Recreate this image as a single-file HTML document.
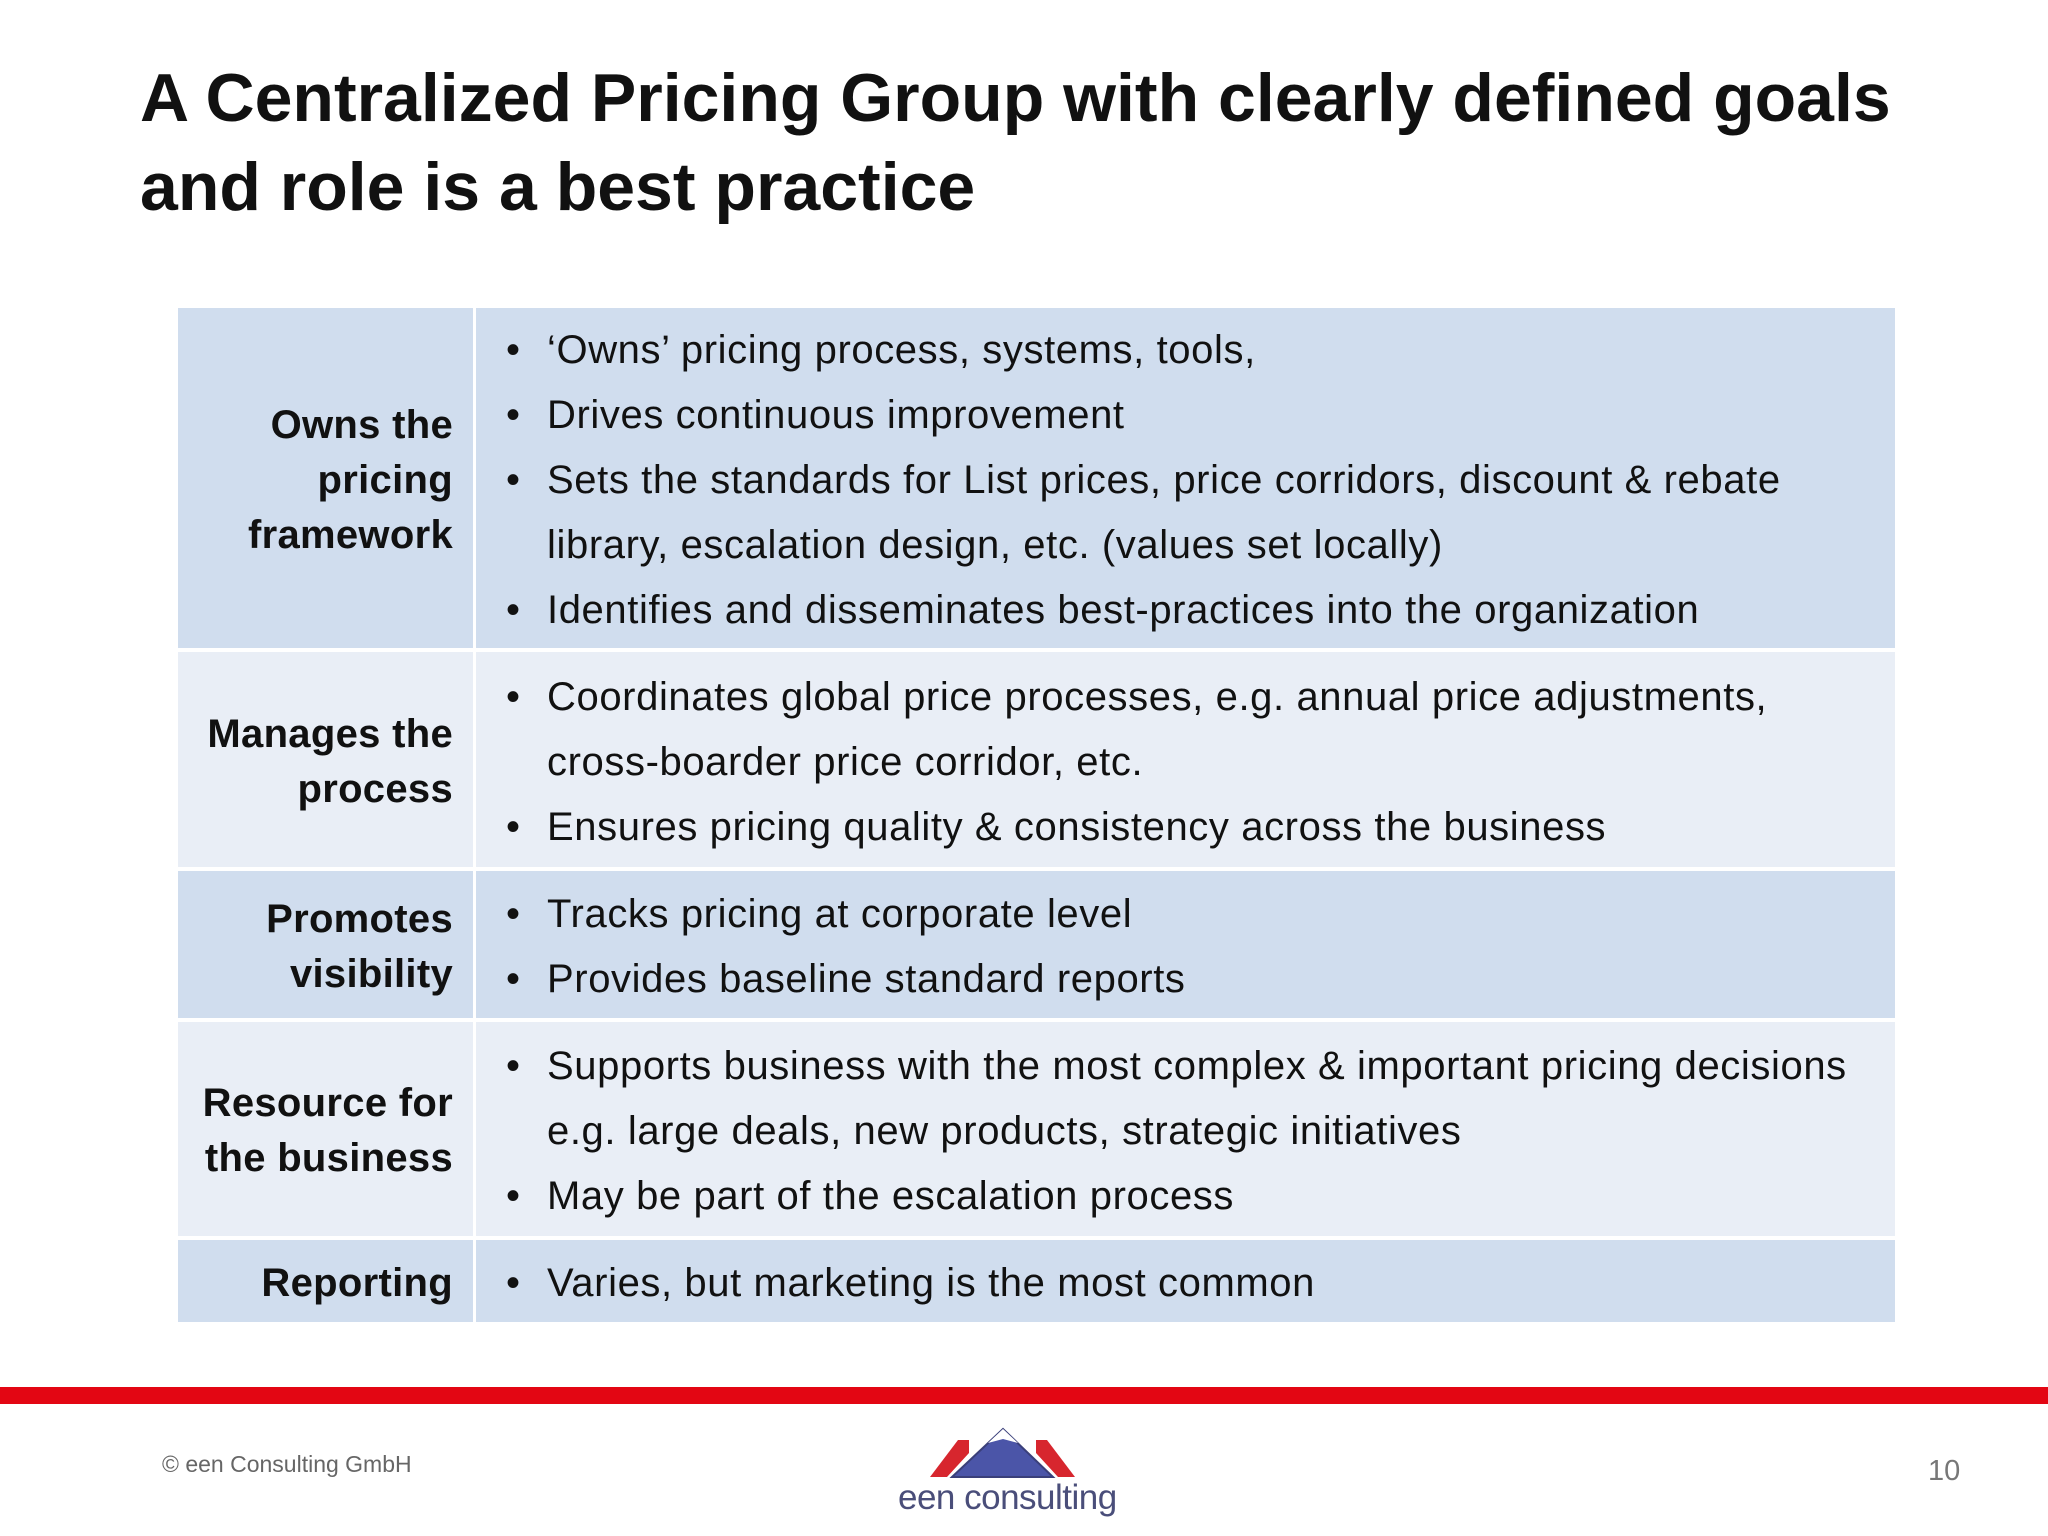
<!DOCTYPE html>
<html><head><meta charset="utf-8">
<style>
body{margin:0;width:2048px;height:1536px;background:#fff;position:relative;overflow:hidden;font-family:"Liberation Sans",sans-serif;}
.title{position:absolute;left:140px;top:54px;font-weight:bold;font-size:68px;line-height:89px;color:#111;letter-spacing:0px;}
.row{position:absolute;left:178px;width:1717px;display:flex;}
.lab{width:295px;display:flex;align-items:center;justify-content:flex-end;text-align:right;padding-right:20px;padding-top:4px;box-sizing:border-box;font-weight:bold;font-size:40px;line-height:55px;color:#111;letter-spacing:0.3px;}
.cont{position:absolute;left:298px;right:0;top:0;bottom:0;padding-top:5px;display:flex;flex-direction:column;justify-content:center;font-size:40px;line-height:65px;color:#111;letter-spacing:0.6px;}
.li{position:relative;padding-left:71px;}
.li.b::before{content:"•";position:absolute;left:30px;}
.dark .lab,.dark .cont{background:#d0ddee;}
.light .lab,.light .cont{background:#e9eef6;}
.lab{height:100%;}
</style></head><body>
<div class="title">A Centralized Pricing Group with clearly defined goals<br>and role is a best practice</div>

<div class="row dark" style="top:308px;height:340px">
 <div class="lab">Owns the<br>pricing<br>framework</div>
 <div class="cont">
  <div class="li b">‘Owns’ pricing process, systems, tools,</div>
  <div class="li b">Drives continuous improvement</div>
  <div class="li b">Sets the standards for List prices, price corridors, discount &amp; rebate</div>
  <div class="li">library, escalation design, etc. (values set locally)</div>
  <div class="li b">Identifies and disseminates best-practices into the organization</div>
 </div>
</div>
<div class="row light" style="top:652px;height:215px">
 <div class="lab">Manages the<br>process</div>
 <div class="cont">
  <div class="li b">Coordinates global price processes, e.g. annual price adjustments,</div>
  <div class="li">cross-boarder price corridor, etc.</div>
  <div class="li b">Ensures pricing quality &amp; consistency across the business</div>
 </div>
</div>
<div class="row dark" style="top:871px;height:147px">
 <div class="lab">Promotes<br>visibility</div>
 <div class="cont">
  <div class="li b">Tracks pricing at corporate level</div>
  <div class="li b">Provides baseline standard reports</div>
 </div>
</div>
<div class="row light" style="top:1022px;height:214px">
 <div class="lab">Resource for<br>the business</div>
 <div class="cont">
  <div class="li b">Supports business with the most complex &amp; important pricing decisions</div>
  <div class="li">e.g. large deals, new products, strategic initiatives</div>
  <div class="li b">May be part of the escalation process</div>
 </div>
</div>
<div class="row dark" style="top:1240px;height:82px">
 <div class="lab">Reporting</div>
 <div class="cont">
  <div class="li b">Varies, but marketing is the most common</div>
 </div>
</div>

<div style="position:absolute;left:0;top:1387px;width:2048px;height:17px;background:#e30613"></div>
<div style="position:absolute;left:162px;top:1451px;font-size:23px;color:#666">© een Consulting GmbH</div>
<div style="position:absolute;left:1928px;top:1455px;font-size:29px;color:#777">10</div>
<svg style="position:absolute;left:925px;top:1425px" width="155" height="56">
 <polygon points="5,52 33,15 44,15 44,28 22,52" fill="#d7262e"/>
 <polygon points="150,52 122,15 111,15 111,28 133,52" fill="#d7262e"/>
 <polygon points="27,52 78,4 128,52" fill="#4b55a8" stroke="#3a3f7a" stroke-width="2"/>
 <polygon points="63,18 78,4 93,18 78,14" fill="#fff"/>
</svg>
<div style="position:absolute;left:898px;top:1478px;font-size:35px;color:#4a4e7a;letter-spacing:-0.5px">een consulting</div>
</body></html>
